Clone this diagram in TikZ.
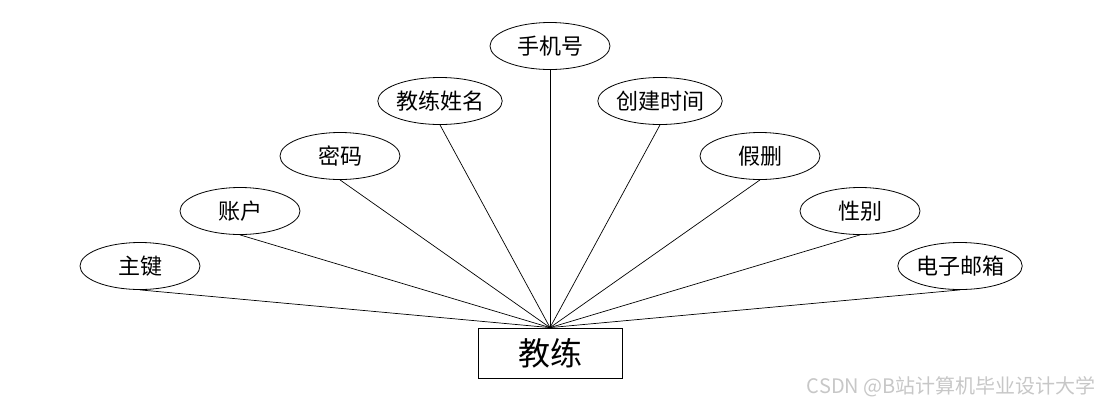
\documentclass[tikz,border=0pt]{standalone}
\usepackage{fontspec}
\setmainfont{Noto Sans CJK SC}
\usetikzlibrary{shapes.geometric}
\begin{document}
\begin{tikzpicture}[x=1pt,y=-1pt,
  attr/.style={draw,ellipse,minimum width=120pt,minimum height=47pt,inner sep=0pt,line width=0.8pt,font=\fontsize{22}{22}\selectfont},
  ent/.style={draw,rectangle,minimum width=144pt,minimum height=50pt,inner sep=0pt,line width=0.8pt,font=\fontsize{32}{32}\selectfont},
  conn/.style={line width=0.7pt}]
\useasboundingbox (0,0) rectangle (1100,408);
\node[ent] (main) at (550,353) {教练};
\node[attr] (a1) at (140,266) {主键};
\node[attr] (a2) at (240,211) {账户};
\node[attr] (a3) at (340,156) {密码};
\node[attr] (a4) at (440,101) {教练姓名};
\node[attr] (a5) at (550,46) {手机号};
\node[attr] (a6) at (660,101) {创建时间};
\node[attr] (a7) at (760,156) {假删};
\node[attr] (a8) at (860,211) {性别};
\node[attr] (a9) at (960,266) {电子邮箱};
\foreach \i in {1,...,9} \draw[conn] (a\i.south) -- (main.north);
\node[anchor=east,text=black!22,font=\fontsize{20}{20}\selectfont,inner sep=0pt] (wm) at (1096,387) {CSDN @B站计算机毕业设计大学};
\end{tikzpicture}
\end{document}
